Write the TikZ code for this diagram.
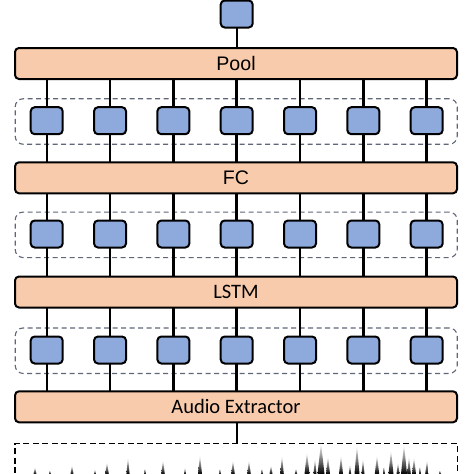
\documentclass[tikz,border=0pt]{standalone}
\usepackage{fontspec}
\setmainfont{Carlito}
\newfontfamily\arialf{Liberation Sans}
\begin{document}
\begin{tikzpicture}[x=1pt,y=-1pt,
  bar/.style={draw=black, line width=2pt, fill=barfill, rounded corners=4pt,
    minimum width=442pt, minimum height=31pt, inner sep=0pt, outer sep=0pt,
    font=\fontsize{20.5}{24}\selectfont},
  arialbar/.style={bar, font=\arialf\fontsize{19.6}{24}\selectfont},
  sq/.style={draw=black, line width=2pt, fill=sqfill, rounded corners=4pt,
    minimum width=32pt, minimum height=27pt, inner sep=0pt, outer sep=0pt},
  group/.style={draw=grpgray, line width=1.1pt, dash pattern=on 5pt off 3.5pt,
    rounded corners=8pt, minimum width=442pt, minimum height=45.5pt, inner sep=0pt},
  conn/.style={line width=2.4pt, black},
  wavebox/.style={draw=black, line width=1.4pt, dash pattern=on 6pt off 3.5pt},
  spike/.style={top color=white, bottom color=black}
]
\definecolor{barfill}{HTML}{F8CBAD}
\definecolor{sqfill}{HTML}{8EA9DB}
\definecolor{grpgray}{HTML}{5E6678}
\useasboundingbox (0,0) rectangle (474,474);

% dashed groups
\node[group] (g1) at (236.2,121.5) {};
\node[group] (g2) at (236.2,234.8) {};
\node[group] (g3) at (236.2,350.7) {};

% bars
\node[arialbar] (pool) at (236,63.5) {Pool};
\node[arialbar] (fc) at (236,177.8) {FC};
\node[bar] (lstm) at (236,292) {LSTM};
\node[bar] (audio) at (236,406.8) {Audio Extractor};

% top output square
\node[sq] (out) at (236.7,14) {};
\draw[conn] (out.south) -- (out.south |- pool.north);

% rows of squares
\foreach \i in {1,...,7} {
  \pgfmathsetmacro{\cx}{46.7+63.33*(\i-1)}
  \node[sq] (a\i) at (\cx,120.7) {};
  \node[sq] (b\i) at (\cx,234) {};
  \node[sq] (c\i) at (\cx,350) {};
  \draw[conn] (a\i.north) -- (a\i.north |- pool.south);
  \draw[conn] (a\i.south) -- (a\i.south |- fc.north);
  \draw[conn] (b\i.north) -- (b\i.north |- fc.south);
  \draw[conn] (b\i.south) -- (b\i.south |- lstm.north);
  \draw[conn] (c\i.north) -- (c\i.north |- lstm.south);
  \draw[conn] (c\i.south) -- (c\i.south |- audio.north);
}

% waveform box
\coordinate (wtl) at (15,443.3);
\coordinate (wbr) at (457.3,490);
\draw[wavebox] (wbr) |- (wtl) -- (wtl |- wbr);
\coordinate (wtop) at (236.7,443.3);
\draw[conn] (audio.south -| wtop) -- (wtop);

% waveform spikes (x, top, half width)
\foreach \x/\t/\w in {35/467/1.5, 50/470/1, 72/465/1.5, 95/469/1, 107/462/1.8, 128/457/1.6,
  145/468/1, 163/460/1.8, 185/467/1, 200/455/2, 220/468/1, 233/460/1.8, 249/460/1.8,
  262/468/1, 271/465/1.5, 282/455/1.8, 296/468/1.2, 307/452/2.5, 315/458/1.5, 321/443/3.5,
  328/456/2, 341/455/2, 350/464/1.2, 357/445/2.5, 363/458/1.5, 377/455/2.2, 384/466/1,
  391/450/2.5, 398/462/1.5, 404/444/3, 409/456/1.8, 414/457/2, 420/466/1, 427/460/1.8, 440/470/1} {
  \shade[spike] (\x-\w,474) -- (\x,\t) -- (\x+\w,474) -- cycle;
}
\end{tikzpicture}
\end{document}
